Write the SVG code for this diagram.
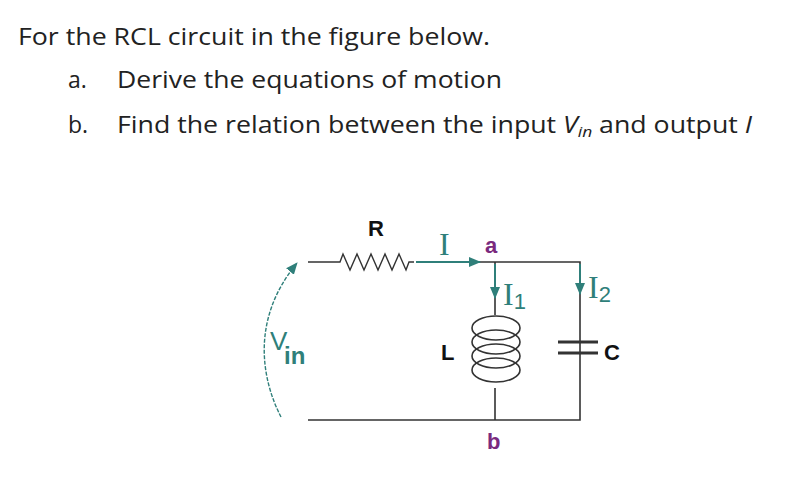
<svg xmlns="http://www.w3.org/2000/svg" width="798" height="488" viewBox="0 0 798 488">
<style>
.t{font-family:"Open Sans","Liberation Sans",sans-serif;font-size:23px;fill:#222}
.w{stroke:#333;stroke-width:1.6;fill:none}
.tl{fill:#2f7f7a;font-family:"Liberation Serif",serif;font-size:32px}
.lb{font-family:"Liberation Sans",sans-serif;font-weight:bold;font-size:22px}
</style>
<defs><marker id="ar" markerWidth="12" markerHeight="12" refX="11" refY="6" orient="auto" markerUnits="userSpaceOnUse"><path d="M0,1L12,6L0,11z" fill="#2f7f7a"/></marker></defs>
<rect width="798" height="488" fill="#fff"/>
<text class="t" x="18" y="45" textLength="472" lengthAdjust="spacingAndGlyphs">For the RCL circuit in the figure below.</text>
<text class="t" x="68" y="88">a.</text><text class="t" x="117" y="88" textLength="385" lengthAdjust="spacingAndGlyphs">Derive the equations of motion</text>
<text class="t" x="68" y="133">b.</text><text class="t" x="117" y="133" textLength="635" lengthAdjust="spacingAndGlyphs">Find the relation between the input <tspan font-style="italic">V<tspan font-size="15" dy="4">in</tspan></tspan><tspan dy="-4"> and output </tspan><tspan font-style="italic">I</tspan></text>
<g id="wires">
<path class="w" d="M308,262H335M478,262H580V420H308M495,262V315M495,388V420M580,262V342M580,353V420"/>
<path d="M335,262h5l3,-8l7,16l7,-16l7,16l7,-16l7,16l7,-16l7,16l7,-16l7,16l3,-8h5" stroke="#333" stroke-width="1.4" fill="none"/>
</g>
<g id="inductor" fill="none" stroke="#333" stroke-width="1.6">
<ellipse cx="496" cy="328" rx="24" ry="12"/><ellipse cx="496" cy="342" rx="24" ry="12"/><ellipse cx="496" cy="356" rx="24" ry="12"/><ellipse cx="496" cy="370" rx="24" ry="12"/>
</g>
<g id="capacitor" stroke="#333" stroke-width="3"><path d="M558,342H598M558,353H598"/></g>
<g id="connectors" stroke="#2f7f7a" stroke-width="2" fill="none">
<path d="M416,262H480" marker-end="url(#ar)"/>
<path d="M495,264V298" marker-end="url(#ar)"/>
<path d="M580,264V294" marker-end="url(#ar)"/>
<path d="M281,417C262,380 250,320 297,263" stroke-width="1.4" stroke-dasharray="4,1.5" marker-end="url(#ar)"/>
</g>
<g id="labels">
<text class="lb" x="368" y="236" fill="#111">R</text>
<text class="tl" x="439" y="255">I</text>
<text class="lb" x="485" y="253" fill="#7a2a7e">a</text>
<text class="tl" x="503" y="305">I<tspan font-family="Liberation Sans" font-size="22" dy="4">1</tspan></text>
<text class="tl" x="588" y="298">I<tspan font-family="Liberation Sans" font-size="22" dy="4">2</tspan></text>
<text class="lb" x="441" y="360" fill="#111">L</text>
<text class="lb" x="604" y="360" fill="#111">C</text>
<text class="lb" x="487" y="449" fill="#7a2a7e">b</text>
<text x="270" y="350" fill="#2f7f7a" font-family="Liberation Sans,sans-serif" font-size="26">V</text>
<text x="284" y="364" fill="#2f7f7a" font-family="Liberation Sans,sans-serif" font-size="24" font-weight="bold">in</text>
</g>
</svg>
